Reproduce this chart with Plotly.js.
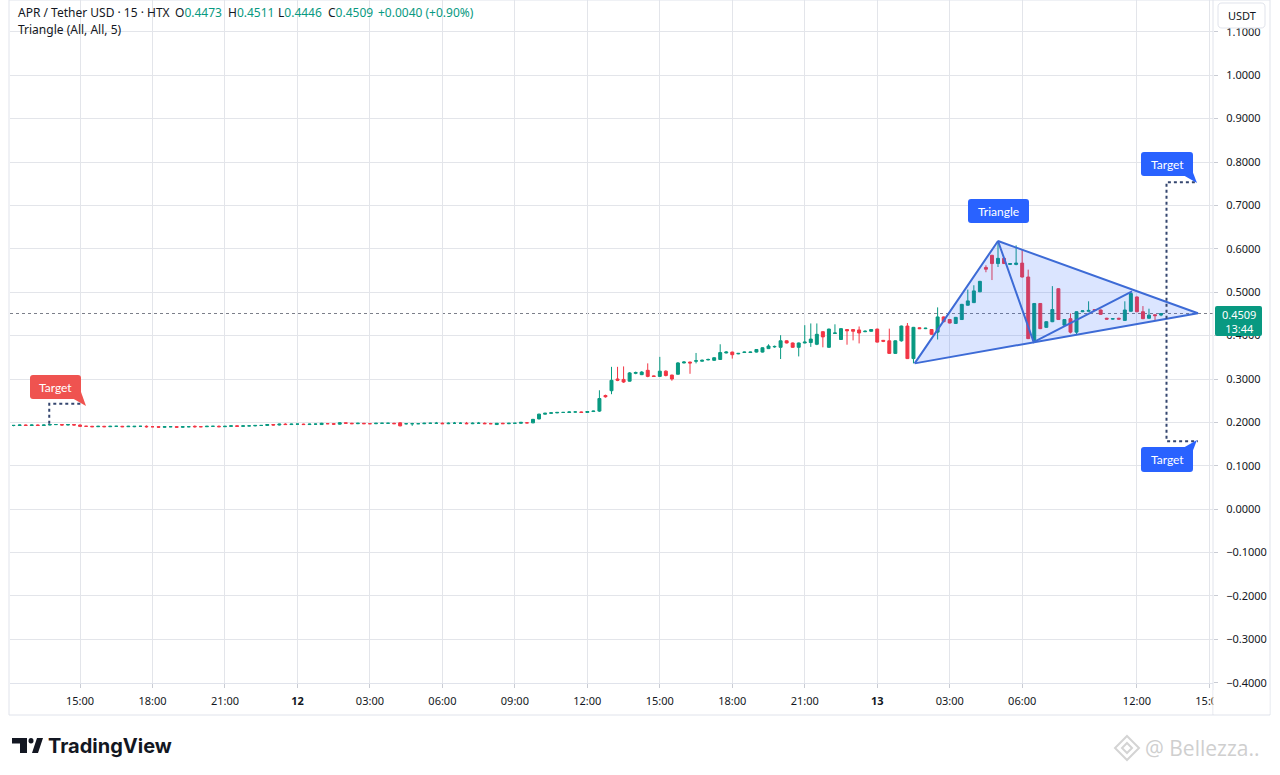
<!DOCTYPE html>
<html>
<head>
<meta charset="utf-8">
<script src="https://cdn.plot.ly/plotly-3.0.1.min.js"></script>
<style>
  html, body { margin: 0; padding: 0; background: #ffffff; }
  #chart { width: 1280px; height: 775px; }
</style>
</head>
<body>
<div id="chart"></div>
<script>
// ---------------- DATA ----------------
// bar index of first candle (0 = 15:00 on the 11th, one bar = 15 minutes)
const firstIndex = -11;

const open = [
  .193,.193,.194,.193,.194,.193,.194,.195,.195,.194,
  .195,.194,.191,.191,.190,.191,.190,.191,.191,.190,
  .190,.191,.191,.190,.190,.189,.190,.190,.189,.190,
  .191,.190,.190,.191,.191,.190,.191,.192,.191,.192,
  .192,.193,.193,.195,.194,.196,.195,.196,.196,.195,
  .196,.195,.197,.197,.196,.199,.198,.197,.198,.197,
  .197,.198,.198,.198,.199,.197,.197,.197,.197,.198,
  .198,.198,.197,.198,.198,.198,.197,.198,.198,.197,
  .195,.198,.197,.198,.198,.199,.199,.208,.219,.221,
  .222,.223,.223,.224,.224,.223,.225,
  .226,.262,.273,.300,.299,.295,.313,.310,.320,.307,
  .306,.318,.309,.311,.337,.339,.341,.341,.344,.343,
  .345,.360,.362,.358,.361,.361,.362,.362,.370,.374,
  .373,.388,.383,.373,.383,.384,.380,.409,.373,.405,
  .391,.414,.414,.413,.409,.410,.415,.389,.388,.359,
  .388,.422,.347,.418,.416,.414,.408,.443,.437,.428,
  .437,.470,.476,.501,.557,.585,.566,.578,.564,.564,
  .567,.535,.388,.474,.419,.432,.508,.424,.439,.408,
  .455,.456,.460,.459,.440,.438,.440,.435,.456,.489,
  .455,.440,.448,.4473
];
const high = [
  .194,.195,.195,.195,.195,.195,.196,.196,.196,.196,
  .196,.195,.192,.192,.192,.192,.192,.192,.192,.192,
  .191,.192,.193,.191,.191,.191,.191,.191,.191,.191,
  .193,.191,.192,.192,.193,.192,.193,.193,.193,.193,
  .194,.194,.196,.196,.197,.198,.197,.197,.197,.197,
  .197,.199,.198,.198,.200,.199,.199,.199,.198,.198,
  .198,.199,.199,.199,.200,.198,.199,.198,.199,.199,
  .201,.200,.200,.201,.200,.201,.200,.201,.200,.199,
  .198,.199,.199,.199,.201,.200,.208,.220,.222,.223,
  .224,.224,.225,.225,.225,.226,.227,
  .274,.264,.328,.328,.329,.316,.317,.318,.336,.308,
  .351,.320,.310,.339,.341,.340,.360,.345,.347,.350,
  .380,.364,.363,.360,.363,.363,.369,.373,.380,.377,
  .401,.389,.384,.384,.424,.428,.428,.410,.416,.426,
  .417,.415,.415,.421,.412,.415,.416,.390,.416,.389,
  .423,.429,.420,.419,.418,.415,.465,.444,.438,.443,
  .473,.506,.516,.526,.562,.586,.614,.579,.567,.608,
  .598,.552,.475,.475,.433,.514,.509,.438,.451,.456,
  .458,.479,.461,.460,.441,.440,.441,.479,.498,.490,
  .468,.462,.449,.4511
];
const low = [
  .191,.192,.192,.192,.192,.192,.193,.194,.193,.193,
  .193,.190,.190,.189,.190,.189,.190,.190,.189,.190,
  .189,.190,.188,.189,.188,.188,.189,.188,.188,.189,
  .188,.189,.190,.190,.189,.190,.190,.190,.190,.191,
  .191,.192,.192,.193,.193,.194,.194,.195,.194,.194,
  .194,.194,.196,.194,.195,.197,.196,.196,.196,.196,
  .196,.197,.197,.196,.191,.195,.192,.196,.196,.197,
  .197,.196,.196,.197,.197,.196,.196,.197,.196,.196,
  .194,.197,.196,.197,.197,.198,.198,.207,.218,.220,
  .221,.222,.222,.223,.223,.222,.224,
  .224,.257,.265,.295,.291,.294,.311,.309,.304,.305,
  .305,.306,.296,.310,.336,.312,.336,.340,.343,.342,
  .344,.359,.347,.357,.360,.360,.361,.361,.369,.372,
  .346,.382,.372,.352,.382,.374,.378,.373,.372,.404,
  .390,.379,.389,.382,.408,.409,.384,.385,.358,.358,
  .386,.346,.336,.415,.415,.402,.391,.431,.428,.427,
  .436,.469,.475,.500,.546,.528,.558,.565,.563,.562,
  .534,.392,.385,.415,.418,.431,.436,.423,.405,.401,
  .454,.455,.457,.448,.437,.437,.437,.434,.455,.454,
  .438,.439,.435,.4446
];
const close = [
  .193,.194,.193,.194,.193,.194,.195,.195,.194,.195,
  .194,.191,.191,.190,.191,.190,.191,.191,.190,.191,
  .191,.191,.190,.190,.189,.190,.190,.189,.190,.190,
  .190,.190,.191,.191,.190,.191,.192,.191,.192,.192,
  .193,.193,.195,.194,.196,.195,.196,.196,.195,.196,
  .196,.198,.197,.196,.199,.198,.197,.198,.197,.197,
  .198,.198,.198,.197,.192,.197,.197,.197,.198,.198,
  .198,.197,.198,.198,.198,.197,.198,.198,.197,.197,
  .198,.197,.198,.198,.200,.199,.207,.219,.221,.222,
  .223,.223,.224,.224,.223,.225,.226,
  .255,.259,.297,.297,.293,.314,.315,.316,.306,.306,
  .318,.308,.300,.337,.339,.337,.342,.343,.345,.349,
  .361,.362,.356,.359,.362,.362,.368,.372,.376,.375,
  .388,.383,.373,.383,.385,.392,.403,.397,.415,.406,
  .416,.411,.410,.406,.410,.414,.385,.387,.359,.388,
  .422,.347,.419,.416,.417,.403,.443,.432,.429,.442,
  .472,.480,.503,.525,.553,.566,.578,.566,.566,.567,
  .535,.393,.474,.416,.432,.460,.437,.437,.408,.455,
  .457,.458,.458,.449,.438,.439,.438,.459,.497,.455,
  .439,.447,.446,.4509
];

// time axis ticks (bar index -> label)
const xTickVals = [0, 12, 24, 36, 48, 60, 72, 84, 96, 108, 120, 132, 144, 156, 175, 187];
const xTickText = ['15:00','18:00','21:00','<b>12</b>','03:00','06:00','09:00','12:00',
                   '15:00','18:00','21:00','<b>13</b>','03:00','06:00','12:00','15:00'];
const yTickVals = [-0.4,-0.3,-0.2,-0.1,0,0.1,0.2,0.3,0.4,0.5,0.6,0.7,0.8,0.9,1.0,1.1];

// triangle pattern pivots (bar index, price): A, B, C, D, apex
const patternX = [138.2, 152.0, 157.9, 174.2, 185.1];
const patternY = [0.336, 0.618, 0.385, 0.502, 0.4516];

// measured-move targets
const upperTargetX = [184.6, 179.9, 179.9, 185.1];
const upperTargetY = [0.7535, 0.7535, 0.1567, 0.1567];
const leftTargetX = [-5.1, -5.1, 0.3];
const leftTargetY = [0.197, 0.243, 0.243];

const lastPrice = close[close.length - 1];
const countdown = '13:44';

// ---------------- BUILD ----------------
const idx = open.map((_, i) => i + firstIndex);

const GREEN = '#089981', RED = '#F23645', BLUE = '#2962FF', LINE = '#3d6bd6';
const GRID = '#e3e5ea', TEXT = '#131722';
const FONT = 'Noto Sans, Open Sans, sans-serif';

const W = 1280, H = 775, ML = 10, MR = 67, MT = 0, MB = 92;
const PW = W - ML - MR, PH = H - MT - MB;
const px = x => (x - ML) / PW;
const py = y => (H - MB - y) / PH;

function rrect(x0, y0, x1, y1, r) {
  const P = (x, y) => px(x).toFixed(5) + ',' + py(y).toFixed(5);
  return 'M' + P(x0 + r, y0) + ' L' + P(x1 - r, y0) + ' Q' + P(x1, y0) + ' ' + P(x1, y0 + r) +
    ' L' + P(x1, y1 - r) + ' Q' + P(x1, y1) + ' ' + P(x1 - r, y1) +
    ' L' + P(x0 + r, y1) + ' Q' + P(x0, y1) + ' ' + P(x0, y1 - r) +
    ' L' + P(x0, y0 + r) + ' Q' + P(x0, y0) + ' ' + P(x0 + r, y0) + ' Z';
}
function poly(pts) {
  return 'M' + pts.map(p => px(p[0]).toFixed(5) + ',' + py(p[1]).toFixed(5)).join(' L') + ' Z';
}
const pshape = (path, color, extra) => Object.assign({
  type: 'path', xref: 'paper', yref: 'paper', path: path,
  fillcolor: color, line: { width: 0 }, layer: 'above'
}, extra || {});

const A = 0, B = 1, C = 2, D = 3, X = 4;
const traces = [
  { // triangle fill
    type: 'scatter', mode: 'lines', hoverinfo: 'skip',
    x: [patternX[A], patternX[B], patternX[X], patternX[A]],
    y: [patternY[A], patternY[B], patternY[X], patternY[A]],
    fill: 'toself', fillcolor: 'rgba(41,98,255,0.17)', line: { width: 0 }
  },
  {
    type: 'candlestick', x: idx, open: open, high: high, low: low, close: close,
    increasing: { line: { color: GREEN, width: 1 }, fillcolor: GREEN },
    decreasing: { line: { color: RED, width: 1 }, fillcolor: RED },
    whiskerwidth: 0, hoverinfo: 'skip'
  },
  { // triangle lines
    type: 'scatter', mode: 'lines', hoverinfo: 'skip',
    x: [patternX[A], patternX[B], patternX[C], patternX[D], null, patternX[B], patternX[X], patternX[A]],
    y: [patternY[A], patternY[B], patternY[C], patternY[D], null, patternY[B], patternY[X], patternY[A]],
    line: { color: LINE, width: 2 }
  },
  {
    type: 'scatter', mode: 'lines', hoverinfo: 'skip', x: upperTargetX, y: upperTargetY,
    line: { color: '#34466f', width: 2, dash: 'dot' }
  },
  {
    type: 'scatter', mode: 'lines', hoverinfo: 'skip', x: leftTargetX, y: leftTargetY,
    line: { color: '#34466f', width: 2, dash: 'dot' }
  }
];

const shapes = [
  // last price dotted line
  { type: 'line', xref: 'paper', yref: 'y', x0: 0, x1: 1, y0: lastPrice, y1: lastPrice,
    line: { color: '#7c7f8a', width: 1, dash: 'dot' }, layer: 'below' },
  // outer frame
  { type: 'rect', xref: 'paper', yref: 'paper', x0: px(9), x1: px(1270), y0: py(0), y1: py(715),
    line: { color: '#e0e3eb', width: 1 }, layer: 'above' },
  { type: 'line', xref: 'paper', yref: 'paper', x0: 1, x1: 1, y0: py(0), y1: py(715),
    line: { color: '#e0e3eb', width: 1 }, layer: 'above' },
  // clip cut-off last time label like the reference
  { type: 'rect', xref: 'paper', yref: 'paper', x0: px(1213.5), x1: px(1269.5), y0: py(690), y1: py(714),
    fillcolor: '#ffffff', line: { width: 0 }, layer: 'above' },
  // label boxes
  pshape(rrect(1141, 152, 1193, 176, 3), BLUE),
  pshape(poly([[1183, 175], [1197, 183], [1192, 170]]), BLUE),
  pshape(rrect(1141, 447, 1193, 472, 3), BLUE),
  pshape(poly([[1183, 448], [1197, 440], [1192, 453]]), BLUE),
  pshape(rrect(968, 199, 1029, 223, 3), BLUE),
  pshape(rrect(30, 375, 81, 399, 3), '#ef5350'),
  pshape(poly([[72, 398], [86, 406], [81, 392]]), '#ef5350'),
  // price label on axis
  pshape(rrect(1215, 306, 1262, 336, 2), GREEN),
  // USDT box
  pshape(rrect(1218, 3, 1265, 28, 4), '#ffffff', { line: { color: '#e0e3eb', width: 1 } }),
  // TradingView logo
  pshape(poly([[12, 738], [27, 738], [27, 753], [20, 753], [20, 743.5], [12, 743.5]]), TEXT),
  { type: 'circle', xref: 'paper', yref: 'paper', x0: px(28.5), x1: px(33.5), y0: py(738), y1: py(743.5),
    fillcolor: TEXT, line: { width: 0 }, layer: 'above' },
  pshape(poly([[32, 753], [37, 738], [43, 738], [38, 753]]), TEXT),
  // watermark icon
  pshape(poly([[1127, 736], [1139, 748], [1127, 760], [1115, 748]]), 'rgba(0,0,0,0)',
    { line: { color: '#d4d4d4', width: 2 } }),
  pshape(poly([[1127, 743], [1132, 748], [1127, 753], [1122, 748]]), 'rgba(0,0,0,0)',
    { line: { color: '#d4d4d4', width: 2 } })
];

const ann = (x, y, text, opts) => Object.assign({
  xref: 'paper', yref: 'paper', x: px(x), y: py(y), text: text, showarrow: false,
  xanchor: 'left', yanchor: 'middle', font: { family: FONT, size: 12, color: TEXT }
}, opts || {});
const g = s => '<span style="color:' + GREEN + '">' + s + '</span>';
const LABEL_FONT = { family: 'Lato, Noto Sans, sans-serif', size: 12, color: '#ffffff' };

const annotations = [
  ann(16, 12, 'APR / Tether USD · 15 · HTX'),
  ann(173, 12, 'O' + g('0.4473')),
  ann(226, 12, 'H' + g('0.4511')),
  ann(276, 12, 'L' + g('0.4446')),
  ann(326, 12, 'C' + g('0.4509')),
  ann(376, 12, g('+0.0040 (+0.90%)')),
  ann(16, 29, 'Triangle (All, All, 5)'),
  ann(1167, 164, 'Target', { xanchor: 'center', font: LABEL_FONT }),
  ann(1167, 459.5, 'Target', { xanchor: 'center', font: LABEL_FONT }),
  ann(998.5, 211, 'Triangle', { xanchor: 'center', font: LABEL_FONT }),
  ann(55.5, 387, 'Target', { xanchor: 'center', font: LABEL_FONT }),
  ann(1238.5, 321, lastPrice.toFixed(4) + '<br>' + countdown,
    { xanchor: 'center', font: { family: FONT, size: 11, color: '#ffffff' } }),
  ann(1241.5, 15.5, 'USDT', { xanchor: 'center', font: { family: FONT, size: 11, color: TEXT } }),
  ann(46, 746, 'TradingView', { font: { family: 'Inter, Lato, sans-serif', size: 20, color: TEXT, weight: 700 } }),
  ann(1143, 748, '@ Bellezza..', { font: { family: 'Open Sans, sans-serif', size: 21, color: '#cfcfcf' } })
];

const layout = {
  width: W, height: H,
  margin: { l: ML, r: MR, t: MT, b: MB, pad: 0 },
  paper_bgcolor: '#ffffff', plot_bgcolor: '#ffffff',
  showlegend: false,
  xaxis: {
    range: [-11.6, 187.6], tickmode: 'array', tickvals: xTickVals, ticktext: xTickText,
    showgrid: true, gridcolor: GRID, gridwidth: 1, zeroline: false,
    showline: true, linecolor: '#e0e3eb', ticks: 'outside', ticklen: 4, tickcolor: '#c9ccd4',
    tickfont: { family: FONT, size: 11, color: TEXT }, ticklabelstandoff: 4,
    rangeslider: { visible: false }, fixedrange: true
  },
  yaxis: {
    side: 'right', range: [-0.4005, 1.1733], tickmode: 'array', tickvals: yTickVals,
    ticktext: yTickVals.map(v => (v < 0 ? '\u2212' : '') + Math.abs(v).toFixed(4)),
    showgrid: true, gridcolor: GRID, gridwidth: 1, zeroline: false,
    showline: false, ticks: 'outside', ticklen: 4, tickcolor: '#c9ccd4',
    tickfont: { family: FONT, size: 11, color: TEXT }, ticklabelstandoff: 6, fixedrange: true
  },
  shapes: shapes,
  annotations: annotations
};

Plotly.newPlot('chart', traces, layout, { staticPlot: true, displayModeBar: false });
</script>
</body>
</html>
